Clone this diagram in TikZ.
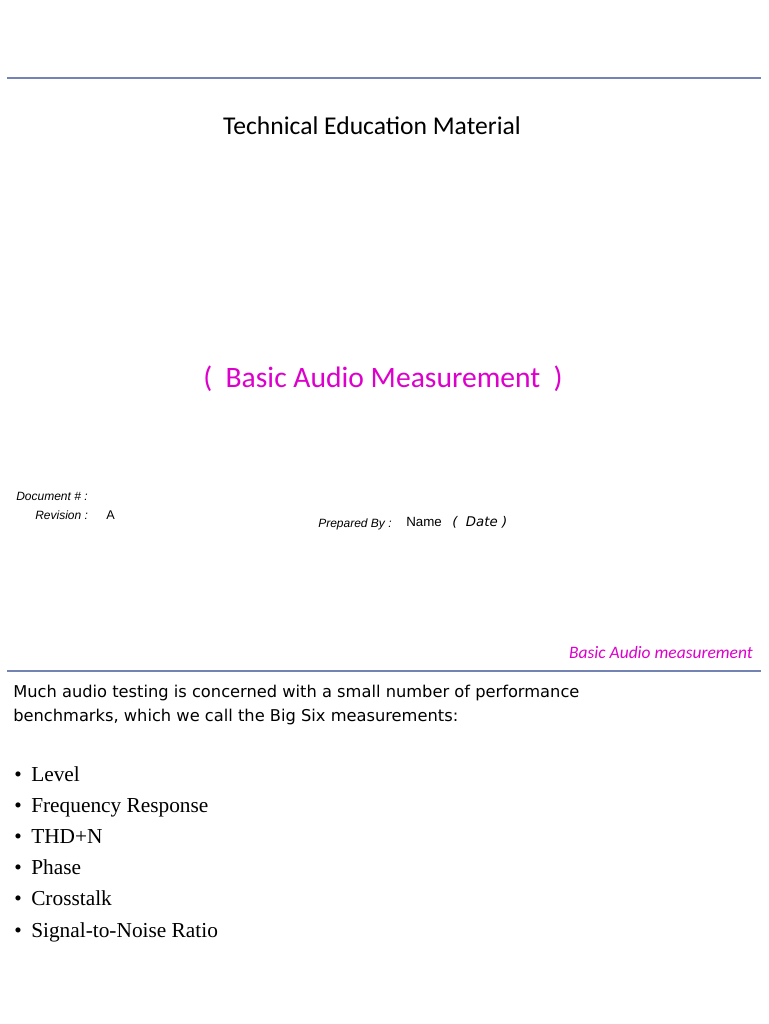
\documentclass[tikz,border=0pt]{standalone}
\usepackage{fontspec}
\setmainfont{Liberation Serif}
\newfontfamily\calfont{Carlito}
\newfontfamily\ari{Liberation Sans}
\newfontfamily\dv{DejaVu Sans}
\definecolor{rule}{HTML}{7383B3}
\definecolor{mag}{HTML}{DD00CC}
\begin{document}
\begin{tikzpicture}[x=0.75pt,y=-0.75pt,
  sep/.style={draw=rule,line width=1.5pt},
  small/.style={font=\ari\itshape\fontsize{9}{11}\selectfont,anchor=base west,inner sep=0},
  bul/.style={font=\fontsize{16}{18}\selectfont,anchor=base west,inner sep=0}]
\useasboundingbox (0,0) rectangle (768,1024);
\draw[sep] (7,78) -- (761,78);
\node (title) at (372,126) {\calfont\fontsize{19.2}{22}\selectfont Technical Education Material};
\node[text=mag] (sub) at (383,379) {\calfont\fontsize{22.2}{26}\selectfont (\ \ Basic Audio Measurement\ \ )};
\node[small] (doc) at (16,500) {Document \# :};
\node[small] (rev) at (35,519) {Revision :};
\node[anchor=base west,inner sep=0,font=\ari\fontsize{9.5}{11}\selectfont] (a) at (106,519) {A};
\node[small] (prep) at (318,527) {Prepared By :};
\node[anchor=base west,inner sep=0,font=\ari\fontsize{10}{12}\selectfont] (nm) at (406,526) {Name};
\node[anchor=base west,inner sep=0,font=\dv\itshape\fontsize{10}{12}\selectfont] (dt) at (452,526) {(\ \ Date\ )};
\node[anchor=base east,inner sep=0,text=mag,font=\calfont\itshape\fontsize{13.1}{15}\selectfont] (hdr) at (753,658) {Basic Audio measurement};
\draw[sep] (7,671) -- (761,671);
\node[anchor=north west,inner sep=0,align=left,font=\dv\fontsize{12.2}{18}\selectfont] (intro) at (13,685) {Much audio testing is concerned with a small number of performance\\benchmarks, which we call the Big Six measurements:};
\foreach \t [count=\i] in {Level,Frequency Response,THD+N,Phase,Crosstalk,Signal-to-Noise Ratio}{
  \node[bul] (b\i) at (14,{781+31.2*(\i-1)}) {\textbullet};
  \node[bul] (t\i) at (31,{781+31.2*(\i-1)}) {\t};
}
\end{tikzpicture}
\end{document}
